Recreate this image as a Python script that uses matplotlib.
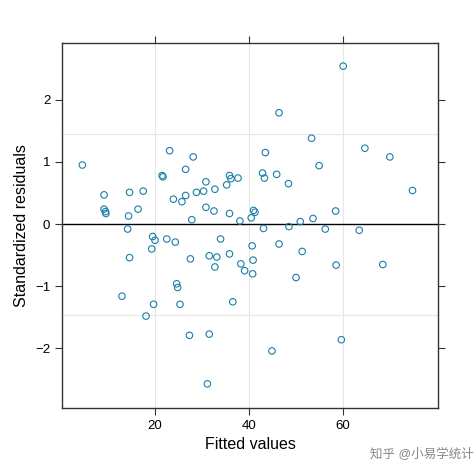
import matplotlib
matplotlib.use("Agg")
import matplotlib.pyplot as plt

plt.rcParams["font.family"] = ["Liberation Sans", "Noto Sans CJK SC", "DejaVu Sans"]

# fitted values and standardized residuals
fitted = [4.7, 9.3, 9.3, 9.6, 9.7, 14.7, 17.6, 14.5, 16.5, 23.2, 28.2, 26.6, 21.6, 21.8,
          30.9, 28.9, 30.4, 32.8, 35.9, 36.2, 37.7, 35.3, 24.0, 25.8, 26.6, 30.9, 32.6,
          35.9, 27.9, 38.1, 14.3, 19.6, 20.1, 22.6, 24.4, 34.0, 14.7, 19.4, 27.6, 31.6,
          33.2, 32.8, 35.9, 38.3, 39.1, 24.7, 24.9, 13.1, 19.8, 25.4, 36.6, 18.2, 27.4,
          31.6, 31.2,
          60.0, 46.4, 53.3, 43.5, 64.6, 69.9, 54.9, 42.9, 43.3, 45.9, 48.4, 74.7, 41.0,
          41.3, 40.5, 58.4, 50.9, 53.6, 43.1, 48.5, 56.2, 63.4, 40.7, 46.4, 51.3, 40.9,
          40.8, 58.5, 68.4, 50.0, 59.6, 44.9]
std_resid = [0.95, 0.47, 0.24, 0.20, 0.17, 0.51, 0.53, 0.13, 0.24, 1.18, 1.08, 0.88, 0.78,
             0.76, 0.68, 0.51, 0.53, 0.56, 0.78, 0.73, 0.74, 0.63, 0.40, 0.36, 0.46, 0.27,
             0.21, 0.17, 0.07, 0.05, -0.08, -0.20, -0.26, -0.24, -0.29, -0.24, -0.54, -0.40,
             -0.56, -0.51, -0.53, -0.69, -0.48, -0.64, -0.75, -0.96, -1.02, -1.16, -1.29,
             -1.29, -1.25, -1.48, -1.79, -1.77, -2.57,
             2.54, 1.79, 1.38, 1.15, 1.22, 1.08, 0.94, 0.82, 0.74, 0.80, 0.65, 0.54, 0.22,
             0.19, 0.10, 0.21, 0.04, 0.09, -0.07, -0.04, -0.08, -0.10, -0.35, -0.32, -0.44,
             -0.58, -0.80, -0.66, -0.65, -0.86, -1.86, -2.04]
ref_lines = [1.45, -1.47]
x_ticks = [20, 40, 60]
y_ticks = [-2, -1, 0, 1, 2]

fig = plt.figure(figsize=(4.74, 4.74), dpi=100)
ax = fig.add_axes([0.131, 0.139, 0.793, 0.770])

for x in x_ticks:
    ax.axvline(x, color="#e6e6e6", lw=0.8, zorder=0)
for y in ref_lines:
    ax.axhline(y, color="#e6e6e6", lw=0.8, zorder=0)
ax.axhline(0, color="black", lw=1.0, zorder=1)

ax.scatter(fitted, std_resid, s=22, facecolors="none", edgecolors="#1a7fa8",
           linewidths=0.8, zorder=2)

ax.set_xlim(0.4, 80.1)
ax.set_ylim(-2.96, 2.91)
ax.set_xticks(x_ticks)
ax.set_yticks(y_ticks)
ax.tick_params(direction="out", length=5, labelsize=9.5, top=True, right=True,
               labeltop=False, labelright=False, color="#333333")
for s in ax.spines.values():
    s.set_color("#333333")
    s.set_linewidth(1.0)
ax.set_xlabel("Fitted values", fontsize=11.5)
ax.set_ylabel("Standardized residuals", fontsize=11.5)

fig.text(0.78, 0.035, "知乎 @小易学统计", fontsize=9, color="#888888")

fig.savefig("out.png", dpi=100)
